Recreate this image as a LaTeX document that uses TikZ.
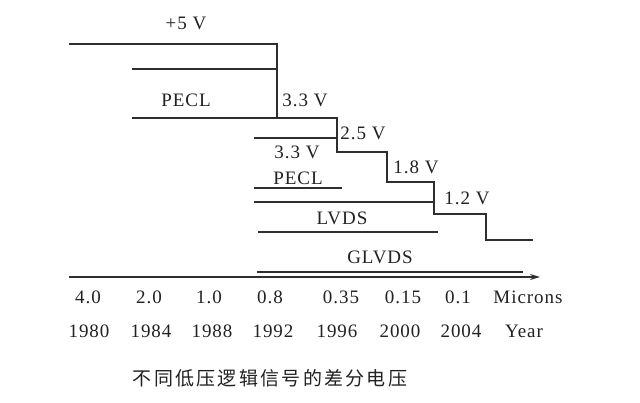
\documentclass[tikz,border=0pt]{standalone}
\usepackage{fontspec}
\setmainfont{Liberation Serif}
\newfontfamily\lblfont[LetterSpace=5]{Liberation Serif}
\newfontfamily\cjk[LetterSpace=12]{Noto Sans CJK SC}
\usetikzlibrary{arrows.meta}
\definecolor{ink}{HTML}{2E2E2E}
\definecolor{txt}{HTML}{222222}
\begin{document}
\begin{tikzpicture}[x=1pt,y=-1pt,
  lvl/.style={draw=ink,line width=1.5pt},
  lbl/.style={text=txt,font=\lblfont\fontsize{19}{19}\selectfont,inner sep=0pt,anchor=center},
  ax/.style={text=txt,font=\lblfont\fontsize{19}{19}\selectfont,inner sep=0pt,anchor=center},
  captext/.style={text=txt,font=\cjk\fontsize{19}{19}\selectfont,inner sep=0pt,anchor=center}]
\useasboundingbox[fill=white] (0,0) rectangle (640,402);
% step line
\draw[lvl] (69,44) -- (277,44) -- (277,118) -- (337,118) -- (337,152) -- (387,152)
  -- (387,182) -- (434,182) -- (434,214) -- (486,214) -- (486,240) -- (533,240);
\draw[lvl] (132,69) -- (277,69);
\draw[lvl] (132,118) -- (277,118);
\draw[lvl] (254,138) -- (337,138);
\draw[lvl] (254,188) -- (342,188);
\draw[lvl] (254,202) -- (434,202);
\draw[lvl] (258,232) -- (438,232);
\draw[lvl] (257,272) -- (523,272);
\draw[lvl,-{Stealth[length=10pt,width=6pt]}] (69,277) -- (540,277);
% labels
\node[lbl] (v5) at (186,23) {+5 V};
\node[lbl] (pecl1) at (186,100) {PECL};
\node[lbl] (v33a) at (305,100) {3.3 V};
\node[lbl] (v25) at (363,133) {2.5 V};
\node[lbl] (v33b) at (297,152) {3.3 V};
\node[lbl] (pecl2) at (298,178) {PECL};
\node[lbl] (v18) at (416,167) {1.8 V};
\node[lbl] (v12) at (467,198) {1.2 V};
\node[lbl] (lvds) at (342,218) {LVDS};
\node[lbl] (glvds) at (380,257) {GLVDS};
% axis labels
\node[ax] (m1) at (88,297) {4.0};
\node[ax] (m2) at (149,297) {2.0};
\node[ax] (m3) at (209,297) {1.0};
\node[ax] (m4) at (270,297) {0.8};
\node[ax] (m5) at (341,297) {0.35};
\node[ax] (m6) at (403,297) {0.15};
\node[ax] (m7) at (458,297) {0.1};
\node[ax] (m8) at (528,297) {Microns};
\node[ax] (y1) at (89,331) {1980};
\node[ax] (y2) at (151,331) {1984};
\node[ax] (y3) at (212,331) {1988};
\node[ax] (y4) at (273,331) {1992};
\node[ax] (y5) at (337,331) {1996};
\node[ax] (y6) at (400,331) {2000};
\node[ax] (y7) at (461,331) {2004};
\node[ax] (y8) at (524,331) {Year};
\node[captext] (caption) at (270,378) {不同低压逻辑信号的差分电压};
\end{tikzpicture}
\end{document}
